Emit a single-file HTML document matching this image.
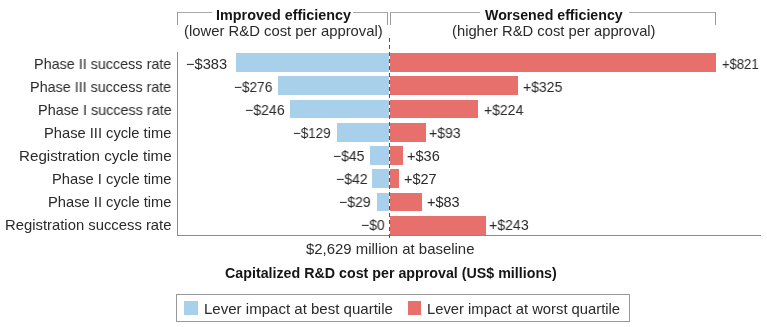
<!DOCTYPE html>
<html><head><meta charset="utf-8"><style>
html,body{margin:0;padding:0;background:#fff;}
body{width:767px;height:327px;position:relative;overflow:hidden;font-family:"Liberation Sans",sans-serif;}
.t{position:absolute;white-space:nowrap;line-height:20px;height:20px;}
.t span{display:inline-block;transform-origin:0 0;will-change:transform;}
.b{font-weight:bold;}
.r{position:absolute;}
</style></head><body>
<div class="r" style="left:235.58px;top:53.05px;width:153.02px;height:18.70px;background:#a8d0ea;"></div>
<div class="r" style="left:389.80px;top:53.05px;width:326.18px;height:18.70px;background:#e8706c;"></div>
<div class="r" style="left:278.28px;top:76.33px;width:110.32px;height:18.70px;background:#a8d0ea;"></div>
<div class="r" style="left:389.80px;top:76.33px;width:128.28px;height:18.70px;background:#e8706c;"></div>
<div class="r" style="left:290.25px;top:99.61px;width:98.35px;height:18.70px;background:#a8d0ea;"></div>
<div class="r" style="left:389.80px;top:99.61px;width:87.98px;height:18.70px;background:#e8706c;"></div>
<div class="r" style="left:336.93px;top:122.89px;width:51.67px;height:18.70px;background:#a8d0ea;"></div>
<div class="r" style="left:389.80px;top:122.89px;width:35.71px;height:18.70px;background:#e8706c;"></div>
<div class="r" style="left:370.44px;top:146.17px;width:18.16px;height:18.70px;background:#a8d0ea;"></div>
<div class="r" style="left:389.80px;top:146.17px;width:12.96px;height:18.70px;background:#e8706c;"></div>
<div class="r" style="left:371.64px;top:169.45px;width:16.96px;height:18.70px;background:#a8d0ea;"></div>
<div class="r" style="left:389.80px;top:169.45px;width:9.37px;height:18.70px;background:#e8706c;"></div>
<div class="r" style="left:376.83px;top:192.73px;width:11.77px;height:18.70px;background:#a8d0ea;"></div>
<div class="r" style="left:389.80px;top:192.73px;width:31.72px;height:18.70px;background:#e8706c;"></div>
<div class="r" style="left:389.80px;top:216.01px;width:96.20px;height:18.70px;background:#e8706c;"></div>
<div class="r" style="left:177.00px;top:12.20px;width:35.00px;height:1.30px;background:#aaaaaa;"></div>
<div class="r" style="left:353.40px;top:12.20px;width:34.50px;height:1.30px;background:#aaaaaa;"></div>
<div class="r" style="left:177.00px;top:12.20px;width:1.00px;height:12.50px;background:#9a9a9a;"></div>
<div class="r" style="left:387.00px;top:12.20px;width:1.00px;height:12.50px;background:#9a9a9a;"></div>
<div class="r" style="left:390.00px;top:12.20px;width:89.70px;height:1.30px;background:#aaaaaa;"></div>
<div class="r" style="left:629.20px;top:12.20px;width:86.80px;height:1.30px;background:#aaaaaa;"></div>
<div class="r" style="left:390.00px;top:12.20px;width:1.00px;height:12.50px;background:#9a9a9a;"></div>
<div class="r" style="left:715.00px;top:12.20px;width:1.00px;height:12.50px;background:#9a9a9a;"></div>
<div class="r" style="left:177.00px;top:52.00px;width:1.00px;height:183.50px;background:#8a8a8a;"></div>
<div class="r" style="left:177.00px;top:234.80px;width:584.30px;height:1.00px;background:#8a8a8a;"></div>
<div class="r" style="left:388.6px;top:38px;width:1.2px;height:200.8px;background:repeating-linear-gradient(to bottom,#555 0px,#555 4px,transparent 4px,transparent 7px);"></div>
<div class="r" style="left:176.2px;top:293.6px;width:452.2px;height:26.8px;border:1px solid #999;"></div>
<div class="r" style="left:184.40px;top:301.00px;width:13.50px;height:13.50px;background:#a8d0ea;"></div>
<div class="r" style="left:407.90px;top:301.00px;width:13.50px;height:13.50px;background:#e8706c;"></div>
<div class="t b" style="left:215.60px;top:5.05px;font-size:14.00px;color:#151515"><span style="transform:scaleX(1.0266)">Improved efficiency</span></div>
<div class="t" style="left:184.10px;top:21.38px;font-size:14.50px;color:#2a2a2a"><span style="transform:scaleX(1.0234)">(lower R&amp;D cost per approval)</span></div>
<div class="t b" style="left:485.00px;top:5.05px;font-size:14.00px;color:#151515"><span style="transform:scaleX(1.0131)">Worsened efficiency</span></div>
<div class="t" style="left:452.30px;top:21.38px;font-size:14.50px;color:#2a2a2a"><span style="transform:scaleX(1.0184)">(higher R&amp;D cost per approval)</span></div>
<div class="t" style="left:34.01px;top:53.58px;font-size:14.50px;color:#2a2a2a"><span style="transform:scaleX(0.9901)">Phase II success rate</span></div>
<div class="t" style="left:185.90px;top:53.58px;font-size:14.50px;color:#2a2a2a"><span style="transform:scaleX(1.0108)">−$383</span></div>
<div class="t" style="left:721.80px;top:53.58px;font-size:14.50px;color:#2a2a2a"><span style="transform:scaleX(0.8977)">+$821</span></div>
<div class="t" style="left:30.11px;top:76.62px;font-size:14.50px;color:#2a2a2a"><span style="transform:scaleX(0.9895)">Phase III success rate</span></div>
<div class="t" style="left:233.90px;top:76.62px;font-size:14.50px;color:#2a2a2a"><span style="transform:scaleX(0.9395)">−$276</span></div>
<div class="t" style="left:522.70px;top:76.62px;font-size:14.50px;color:#2a2a2a"><span style="transform:scaleX(0.9641)">+$325</span></div>
<div class="t" style="left:37.51px;top:99.66px;font-size:14.50px;color:#2a2a2a"><span style="transform:scaleX(0.9938)">Phase I success rate</span></div>
<div class="t" style="left:245.10px;top:99.66px;font-size:14.50px;color:#2a2a2a"><span style="transform:scaleX(0.9739)">−$246</span></div>
<div class="t" style="left:484.20px;top:99.66px;font-size:14.50px;color:#2a2a2a"><span style="transform:scaleX(0.9641)">+$224</span></div>
<div class="t" style="left:43.89px;top:122.70px;font-size:14.50px;color:#2a2a2a"><span style="transform:scaleX(1.0132)">Phase III cycle time</span></div>
<div class="t" style="left:293.40px;top:122.70px;font-size:14.50px;color:#2a2a2a"><span style="transform:scaleX(0.9223)">−$129</span></div>
<div class="t" style="left:429.00px;top:122.70px;font-size:14.50px;color:#2a2a2a"><span style="transform:scaleX(0.9725)">+$93</span></div>
<div class="t" style="left:18.65px;top:145.74px;font-size:14.50px;color:#2a2a2a"><span style="transform:scaleX(1.0463)">Registration cycle time</span></div>
<div class="t" style="left:333.20px;top:145.74px;font-size:14.50px;color:#2a2a2a"><span style="transform:scaleX(0.9633)">−$45</span></div>
<div class="t" style="left:406.60px;top:145.74px;font-size:14.50px;color:#2a2a2a"><span style="transform:scaleX(1.0032)">+$36</span></div>
<div class="t" style="left:51.78px;top:168.78px;font-size:14.50px;color:#2a2a2a"><span style="transform:scaleX(1.0155)">Phase I cycle time</span></div>
<div class="t" style="left:335.70px;top:168.78px;font-size:14.50px;color:#2a2a2a"><span style="transform:scaleX(0.9725)">−$42</span></div>
<div class="t" style="left:403.50px;top:168.78px;font-size:14.50px;color:#2a2a2a"><span style="transform:scaleX(0.9970)">+$27</span></div>
<div class="t" style="left:47.79px;top:191.82px;font-size:14.50px;color:#2a2a2a"><span style="transform:scaleX(1.0147)">Phase II cycle time</span></div>
<div class="t" style="left:338.90px;top:191.82px;font-size:14.50px;color:#2a2a2a"><span style="transform:scaleX(0.9725)">−$29</span></div>
<div class="t" style="left:426.50px;top:191.82px;font-size:14.50px;color:#2a2a2a"><span style="transform:scaleX(1.0001)">+$83</span></div>
<div class="t" style="left:4.78px;top:214.86px;font-size:14.50px;color:#2a2a2a"><span style="transform:scaleX(1.0227)">Registration success rate</span></div>
<div class="t" style="left:360.60px;top:214.86px;font-size:14.50px;color:#2a2a2a"><span style="transform:scaleX(0.9661)">−$0</span></div>
<div class="t" style="left:488.70px;top:214.86px;font-size:14.50px;color:#2a2a2a"><span style="transform:scaleX(0.9739)">+$243</span></div>
<div class="t" style="left:306.20px;top:238.58px;font-size:14.50px;color:#2a2a2a"><span style="transform:scaleX(1.0295)">$2,629 million at baseline</span></div>
<div class="t b" style="left:224.90px;top:262.65px;font-size:14.00px;color:#151515"><span style="transform:scaleX(1.0179)">Capitalized R&amp;D cost per approval (US$ millions)</span></div>
<div class="t" style="left:203.66px;top:299.18px;font-size:14.50px;color:#2a2a2a"><span style="transform:scaleX(1.0371)">Lever impact at best quartile</span></div>
<div class="t" style="left:426.98px;top:299.18px;font-size:14.50px;color:#2a2a2a"><span style="transform:scaleX(1.0195)">Lever impact at worst quartile</span></div>
</body></html>
